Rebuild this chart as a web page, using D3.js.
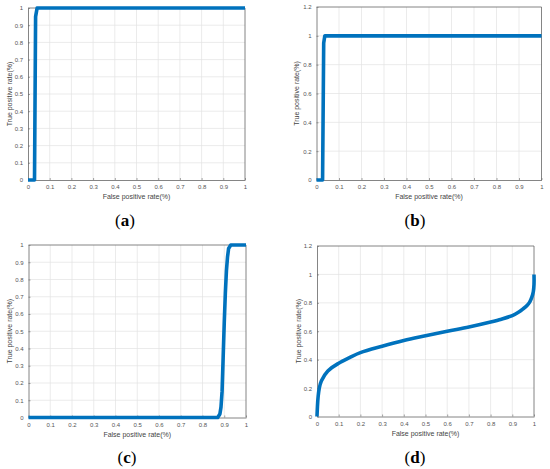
<!DOCTYPE html>
<html>
<head>
<meta charset="utf-8">
<script src="https://cdn.jsdelivr.net/npm/d3@7"></script>
<style>
  body { margin: 0; background: #fff; }
  .tick text { font-family: "Liberation Sans", Arial, sans-serif; font-size: 6px; fill: #555; }
  .axis-title { font-family: "Liberation Sans", Arial, sans-serif; font-size: 7px; fill: #444; }
  .caption { font-family: "Liberation Serif", "Times New Roman", serif; font-size: 17px; fill: #000; }
</style>
</head>
<body>
<svg id="chart" width="550" height="469"></svg>
<script>
// ROC curves
const fprA = [0, 0.03, 0.035, 0.042, 1]
const tprA = [0, 0, 0.95, 1, 1]

const fprB = [0, 0.027, 0.032, 0.037, 1]
const tprB = [0, 0, 0.95, 1, 1]

const fprC = [0, 0.87, 0.88, 0.885, 0.89, 0.895, 0.9, 0.905, 0.91, 0.915, 0.92, 0.93, 1]
const tprC = [0, 0, 0.02, 0.06, 0.15, 0.35, 0.55, 0.72, 0.85, 0.93, 0.98, 1, 1]

const fprD = [0, 0.002, 0.005, 0.01, 0.02, 0.05, 0.1, 0.15, 0.2, 0.3, 0.4, 0.5, 0.6, 0.7, 0.8, 0.85, 0.9, 0.93, 0.95, 0.97, 0.98, 0.99, 0.997, 1, 1]
const tprD = [0, 0.07, 0.136, 0.195, 0.25, 0.32, 0.375, 0.415, 0.45, 0.495, 0.535, 0.568, 0.6, 0.63, 0.665, 0.685, 0.71, 0.735, 0.758, 0.785, 0.805, 0.84, 0.88, 0.93, 1]

// tick labels
const xTicks = [0, 0.1, 0.2, 0.3, 0.4, 0.5, 0.6, 0.7, 0.8, 0.9, 1]
const yTicksFine = [0, 0.1, 0.2, 0.3, 0.4, 0.5, 0.6, 0.7, 0.8, 0.9, 1]
const yTicksCoarse = [0, 0.2, 0.4, 0.6, 0.8, 1, 1.2]

const captions = ['a', 'b', 'c', 'd']

const svg = d3.select('#chart')

const panels = [
    {box: {left: 28, right: 245, top: 8, bottom: 180}, yMax: 1, yTicks: yTicksFine, fpr: fprA, tpr: tprA, cap: {x: 125, y: 226}, yLabelX: 9},
    {box: {left: 316.5, right: 541.5, top: 7, bottom: 180}, yMax: 1.2, yTicks: yTicksCoarse, fpr: fprB, tpr: tprB, cap: {x: 415, y: 226}, yLabelX: 296},
    {box: {left: 28.5, right: 246, top: 245, bottom: 417.5}, yMax: 1, yTicks: yTicksFine, fpr: fprC, tpr: tprC, cap: {x: 127, y: 463}, yLabelX: 9},
    {box: {left: 317, right: 534, top: 246, bottom: 416.5}, yMax: 1.2, yTicks: yTicksCoarse, fpr: fprD, tpr: tprD, cap: {x: 415, y: 463}, yLabelX: 298}
]

panels.forEach((p, i) => drawPanel(p, captions[i]))

function drawPanel(p, cap) {
    const b = p.box
    const w = b.right - b.left
    const h = b.bottom - b.top

    const g = svg.append('g')
        .attr('transform', `translate(${b.left},${b.top})`)

    const x = d3.scaleLinear().domain([0, 1]).range([0, w])
    const y = d3.scaleLinear().domain([0, p.yMax]).range([h, 0])

    // grid
    g.append('g').selectAll('line')
        .data(xTicks.slice(1, -1))
        .join('line')
            .attr('x1', d => x(d)).attr('x2', d => x(d))
            .attr('y1', 0).attr('y2', h)
            .attr('stroke', '#e3e3e3').attr('stroke-width', 0.7)
    g.append('g').selectAll('line')
        .data(p.yTicks.filter(d => d > 0 && d < p.yMax))
        .join('line')
            .attr('x1', 0).attr('x2', w)
            .attr('y1', d => y(d)).attr('y2', d => y(d))
            .attr('stroke', '#e3e3e3').attr('stroke-width', 0.7)

    // axes (MATLAB style, ticks inward)
    const xAxis = d3.axisBottom(x).tickValues(xTicks).tickFormat(d3.format('')).tickSizeInner(-2).tickSizeOuter(0).tickPadding(5)
    const yAxis = d3.axisLeft(y).tickValues(p.yTicks).tickFormat(d => +d.toFixed(1)).tickSizeInner(-2).tickSizeOuter(0).tickPadding(5)

    g.append('g')
        .attr('class', 'axis x-axis')
        .attr('transform', `translate(0,${h})`)
        .call(xAxis)
    g.append('g')
        .attr('class', 'axis y-axis')
        .call(yAxis)

    g.selectAll('.axis path').attr('stroke', '#666').attr('stroke-width', 0.8)
    g.selectAll('.axis line').attr('stroke', '#666').attr('stroke-width', 0.6)

    // box top/right
    g.append('line').attr('x1', 0).attr('x2', w).attr('y1', 0).attr('y2', 0)
        .attr('stroke', '#666').attr('stroke-width', 0.8)
    g.append('line').attr('x1', w).attr('x2', w).attr('y1', 0).attr('y2', h)
        .attr('stroke', '#666').attr('stroke-width', 0.8)

    // the curve
    const pts = p.fpr.map((f, k) => [f, p.tpr[k]])
    const line = d3.line()
        .x(d => x(d[0]))
        .y(d => y(d[1]))
        .curve(cap === 'd' ? d3.curveCatmullRom : d3.curveLinear)

    g.append('path')
        .datum(pts)
        .attr('d', line)
        .attr('fill', 'none')
        .attr('stroke', '#0072BD')
        .attr('stroke-width', 3.6)
        .attr('stroke-linejoin', 'round')

    // titles
    g.append('text')
        .attr('class', 'axis-title')
        .attr('x', w / 2)
        .attr('y', h + 19)
        .attr('text-anchor', 'middle')
        .text('False positive rate(%)')

    svg.append('text')
        .attr('class', 'axis-title')
        .attr('transform', `translate(${p.yLabelX + 2.5},${b.top + h / 2}) rotate(-90)`)
        .attr('text-anchor', 'middle')
        .text('True positive rate(%)')

    const c = svg.append('text')
        .attr('class', 'caption')
        .attr('x', p.cap.x)
        .attr('y', p.cap.y)
        .attr('text-anchor', 'middle')
    c.append('tspan').text('(')
    c.append('tspan').attr('font-weight', 'bold').text(cap)
    c.append('tspan').text(')')
}
</script>
</body>
</html>
